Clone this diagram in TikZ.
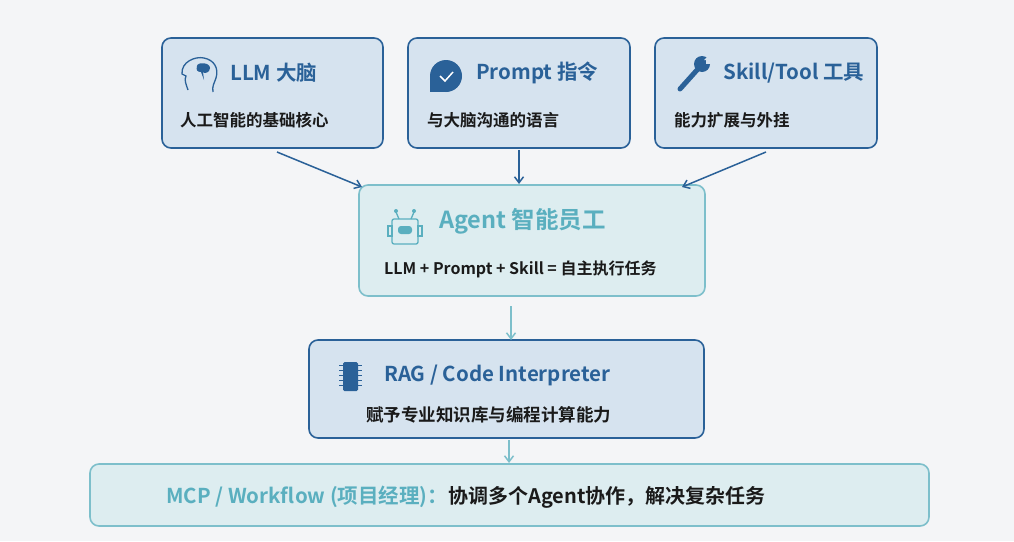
\documentclass[tikz,border=0pt]{standalone}
\usepackage{fontspec}
\setmainfont{Noto Sans CJK SC}[BoldFont={* Bold}]
\usetikzlibrary{arrows.meta}
\definecolor{dblue}{HTML}{2A6198}
\definecolor{lblue}{HTML}{D6E3EF}
\definecolor{teal}{HTML}{7DBFCB}
\definecolor{lteal}{HTML}{DDEDF0}
\definecolor{tealtxt}{HTML}{5AAFBF}
\definecolor{bg}{HTML}{F4F5F7}
\definecolor{txt}{HTML}{1A1A1A}
\tikzset{
 bluebox/.style={draw=dblue,fill=lblue,line width=1.6pt,rounded corners=9pt},
 tealbox/.style={draw=teal,fill=lteal,line width=1.6pt,rounded corners=9pt},
 ttl/.style={font=\bfseries\fontsize{20.5}{24}\selectfont,text=dblue,anchor=west,inner sep=0},
 sub/.style={font=\bfseries\fontsize{16.5}{19}\selectfont,text=txt,anchor=west,inner sep=0},
 blarr/.style={draw=dblue,line width=1.5pt,-{Straight Barb[length=6pt,width=9pt]}},
 tlarr/.style={draw=teal,line width=1.5pt,-{Straight Barb[length=6pt,width=9pt]}},
}
\begin{document}
\begin{tikzpicture}[x=1pt,y=-1pt]
\fill[bg] (0,0) rectangle (1014,541);
\useasboundingbox (0,0) rectangle (1014,541);
% boxes
\draw[bluebox] (162,38) rectangle (383,148); \coordinate (llm) at (272,148);
\draw[bluebox] (408,38) rectangle (630,148); \coordinate (pr) at (519,148);
\draw[bluebox] (655,38) rectangle (877,148); \coordinate (sk) at (766,148);
\draw[tealbox] (359,185) rectangle (705,296);
\draw[bluebox] (309,340) rectangle (704,438);
\draw[tealbox] (90,464) rectangle (929,526);
% texts
\node[ttl] (t1) at (230,73) {LLM 大脑};
\node[sub] (s1) at (180,120) {人工智能的基础核心};
\node[ttl] (t2) at (476,73) {Prompt 指令};
\node[sub] (s2) at (427,120) {与大脑沟通的语言};
\node[ttl] (t3) at (723,73) {Skill/Tool 工具};
\node[sub] (s3) at (674,120) {能力扩展与外挂};
\node[ttl,text=tealtxt,font=\bfseries\fontsize{23.5}{27}\selectfont] (t4) at (439,221) {Agent 智能员工};
\node[sub,font=\bfseries\fontsize{16}{19}\selectfont] (s4) at (384,269) {LLM + Prompt + Skill = 自主执行任务};
\node[ttl] (t5) at (384,375) {RAG / Code Interpreter};
\node[sub,font=\bfseries\fontsize{17.5}{20}\selectfont] (s5) at (366,415) {赋予专业知识库与编程计算能力};
\node[ttl,text=tealtxt] (t6) at (166,497) {MCP / Workflow (项目经理)：};
\node[sub,font=\bfseries\fontsize{20}{23}\selectfont] (s6) at (t6.east) {协调多个Agent协作，解决复杂任务};
% icons
% brain head
\begin{scope}[draw=dblue,line width=1.3pt]
\draw (188,90) .. controls (186,84) and (184,80) .. (186,76) -- (182,74) .. controls (181,62) and (195,56) .. (204,58) .. controls (214,60) and (219,68) .. (216,78) .. controls (214,84) and (212,86) .. (213,92);
\fill[dblue] (197,66) .. controls (197,62) and (210,62) .. (210,68) .. controls (210,73) and (204,74) .. (203,72) -- (204,80) -- (201,72) .. controls (197,72) and (196,70) .. (197,66);
\end{scope}
% chat bubble with check
\fill[dblue] (446,76) circle (16pt);
\fill[dblue] (430,76) rectangle (446,92);
\draw[white,line width=1.5pt] (440,76) -- (445,81) -- (453,72);
% wrench
\begin{scope}[dblue]
\draw[line width=5pt,line cap=round] (680,89) -- (697,70);
\fill (702,64) circle (8pt);
\fill[lblue] (706,58) rectangle (712,64);
\fill[lblue] (704,60) -- (710,54) -- (714,60) -- cycle;
\end{scope}
% robot
\begin{scope}[draw=tealtxt,line width=1.3pt]
\draw[rounded corners=2pt] (392,219) rectangle (418,244);
\draw (388,226) rectangle (392,236); \draw (418,226) rectangle (422,236);
\draw (399,219) -- (396,212); \draw (411,219) -- (414,212);
\fill[tealtxt] (396,211) circle (2pt); \fill[tealtxt] (414,211) circle (2pt);
\fill[tealtxt,rounded corners=3pt] (398,226) rectangle (412,234);
\end{scope}
% chip
\fill[dblue,rounded corners=1.5pt] (343,362) rectangle (358,391);
\foreach \yy in {365,370,375,380,385}{\draw[dblue,line width=1pt] (339,\yy) -- (343,\yy) (358,\yy) -- (362,\yy);}
% arrows
\draw[blarr] (277,152) -- (362,187);
\draw[blarr] (519,150) -- (519,184);
\draw[blarr] (766,152) -- (682,187);
\draw[tlarr] (511,306) -- (511,340);
\draw[tlarr] (509,440) -- (509,463);
\end{tikzpicture}
\end{document}
